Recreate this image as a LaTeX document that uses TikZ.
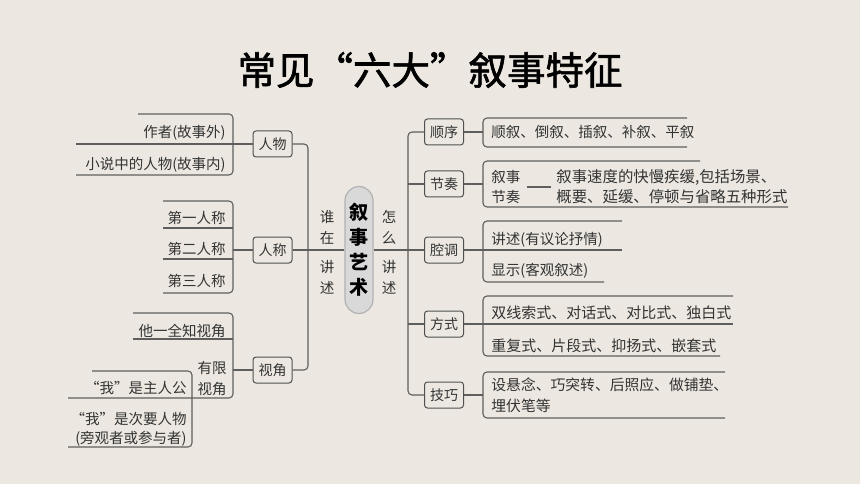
\documentclass[tikz,border=0pt]{standalone}
\usepackage{fontspec}
\setmainfont{Noto Sans CJK SC}
\newfontfamily\titlefont{Noto Sans CJK SC}[FakeBold=1.6]
\usepackage{xcolor}
\usepackage{tikz}
\usetikzlibrary{positioning}
\definecolor{paper}{HTML}{ECE8E1}
\definecolor{ink}{HTML}{333333}
\definecolor{linegray}{HTML}{5E5E5E}
\tikzset{branch/.style = {draw=linegray, line width=1.1pt, rounded corners=4pt}}

\begin{document}
\begin{tikzpicture}[x=1pt,y=-1pt,thick,
    main node/.style={draw=linegray!85!black,rounded corners=3pt,line width=1pt,minimum width=39pt,minimum height=26pt,inner sep=1pt,text=ink,font=\fontsize{14}{16}\selectfont},
    leaf/.style={inner sep=0pt,text=ink,font=\fontsize{14.5}{20}\selectfont},
    side/.style={inner sep=0pt,text=ink,align=center,font=\fontsize{14.5}{21}\selectfont}]
            \fill[paper] (0,0) rectangle (860,484);
            \useasboundingbox (0,0) rectangle (860,484);

            \node[font=\fontsize{38.5}{40}\titlefont] (title) at (430,70) {常见“六大”叙事特征};

            % centre
            \node[draw=gray!60,fill=gray!30,rounded corners=14pt,line width=1.2pt,minimum width=28pt,minimum height=127pt,inner sep=0pt,align=center,font=\fontsize{19}{25}\selectfont\bfseries] (0) at (359,250) {叙\\事\\艺\\术};
            \node[side] (who) at (327,252) {谁\\在\\[8pt]讲\\述};
            \node[side] (how) at (389,252) {怎\\么\\[8pt]讲\\述};

            \node[main node] (1) at (272.5,144) {人物};
            \node[main node] (2) at (272.5,250) {人称};
            \node[main node] (3) at (272.5,370) {视角};

            \node[main node] (4) at (444,132) {顺序};
            \node[main node] (5) at (444,184) {节奏};
            \node[main node] (6) at (444,250) {腔调};
            \node[main node] (7) at (444,324) {方式};
            \node[main node] (8) at (444,395) {技巧};

            \coordinate (lt) at (308,250);
            \coordinate (rt) at (408,250);
            \draw[branch] (1.east) -| (lt) |- (3.east);
            \draw[branch] (0.west) -- (2.east);
            \draw[branch] (4.west) -| (rt) |- (8.west);
            \draw[branch] (0.east) -- (6.west);
            \draw[branch] (5.west) -- (5.west -| rt);
            \draw[branch] (7.west) -- (7.west -| rt);

            % left side
            \coordinate (b1) at (233,144);
            \coordinate (b2) at (233,250);
            \coordinate (b3) at (233,370);

            \node[leaf,anchor=east] (1a) at (226,133) {作者(故事外)};
            \node[leaf,anchor=east] (1b) at (226,165) {小说中的人物(故事内)};
            \draw[branch] (138,114) -| (b1) |- (76,175);
            \draw[branch] (76,144) -- (1.west);

            \node[leaf,anchor=east] (2a) at (226,218) {第一人称};
            \node[leaf,anchor=east] (2b) at (226,249) {第二人称};
            \node[leaf,anchor=east] (2c) at (226,281) {第三人称};
            \draw[branch] (163,201) -| (b2) |- (163,293);
            \draw[branch] (163,228) -- (233,228);
            \draw[branch] (163,259) -- (233,259);
            \draw[branch] (b2) -- (2.west);

            \node[leaf,anchor=east] (3a) at (226,331) {他一全知视角};
            \node[side] (3b) at (212,379) {有限\\视角};
            \node[leaf,anchor=east] (3c) at (187,388) {“我”是主人公};
            \node[leaf,anchor=east,align=right,font=\fontsize{14.5}{19}\selectfont] (3d) at (187,429) {“我”是次要人物\\(旁观者或参与者)};
            \draw[branch] (133,313) -| (b3) |- (68,398);
            \draw[branch] (133,339) -- (233,339);
            \draw[branch] (b3) -- (3.west);
            \draw[branch] (92,371) -| (192,447) -- (68,447);

            % right side
            \coordinate (b4) at (483,132);
            \coordinate (b5) at (483,184);
            \coordinate (b6) at (483,250);
            \coordinate (b7) at (483,324);
            \coordinate (b8) at (483,395);

            \node[leaf,right=8pt of b4] (4a) {顺叙、倒叙、插叙、补叙、平叙};
            \draw[branch] (687,118) -| (b4) |- (687,147);
            \draw[branch] (4.east) -- (b4);

            \node[leaf,anchor=west,align=left] (5a) at (491,187) {叙事\\节奏};
            \node[leaf,anchor=west,align=left,font=\fontsize{15.4}{20}\selectfont] (5b) at (556,187) {叙事速度的快慢疾缓,包括场景、\\概要、延缓、停顿与省略五种形式};
            \draw[branch] (700,161) -| (b5) |- (788,207);
            \draw[branch] (5.east) -- (b5);
            \draw[branch,shorten <=6pt,shorten >=5pt] (5a) -- (5b);

            \node[leaf,anchor=west] (6a) at (491,240) {讲述(有议论抒情)};
            \node[leaf,anchor=west] (6b) at (491,271) {显示(客观叙述)};
            \draw[branch] (622,221) -| (b6) |- (604,282);
            \draw[branch] (6.east) -- (622,250);

            \node[leaf,anchor=west,font=\fontsize{15}{20}\selectfont] (7a) at (491,313) {双线索式、对话式、对比式、独白式};
            \node[leaf,anchor=west,font=\fontsize{15}{20}\selectfont] (7b) at (491,346) {重复式、片段式、抑扬式、嵌套式};
            \draw[branch] (733,296) -| (b7) |- (720,356);
            \draw[branch] (7.east) -- (733,324);

            \node[leaf,align=left,right=8pt of b8,font=\fontsize{14.8}{21}\selectfont] (8a) {设悬念、巧突转、后照应、做铺垫、\\埋伏笔等};
            \draw[branch] (725,372) -| (b8) |- (725,418);
            \draw[branch] (8.east) -- (b8);

        \end{tikzpicture}
\end{document}
